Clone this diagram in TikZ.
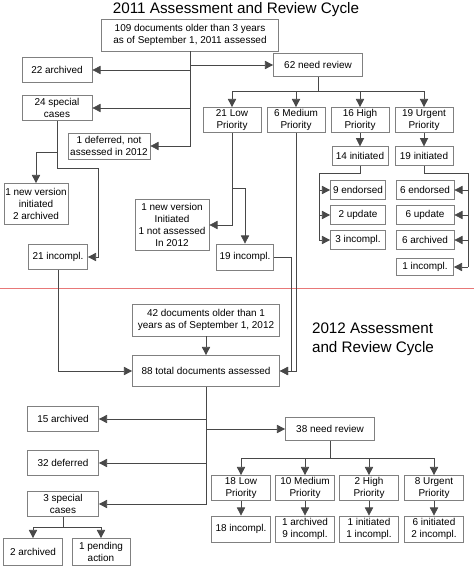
\documentclass[tikz,border=0pt]{standalone}
\usepackage{fontspec}
\setmainfont{Liberation Sans}
\usetikzlibrary{positioning, arrows.meta, calc}
\definecolor{bcolor}{HTML}{808080}
\definecolor{lcolor}{HTML}{484848}
\definecolor{rcolor}{HTML}{E87878}

\begin{document}
\begin{tikzpicture}[
    x=0.03cm, y=-0.03cm,
    box/.style={rectangle, draw=bcolor, fill=white, line width=0.6pt, inner sep=1pt, align=center, font=\fontsize{8.5}{10.2}\selectfont},
    prio/.style={box, minimum width=1.74cm, minimum height=0.75cm},
    small/.style={box, minimum width=1.65cm, minimum height=0.56cm},
    arr/.style={-{Triangle[length=7pt, width=7pt]}, draw=lcolor, line width=0.6pt},
    ln/.style={draw=lcolor, line width=0.6pt},
    ttl/.style={font=\fontsize{13}{16}\selectfont, align=left},
  ]
    \useasboundingbox (0,0) rectangle (474,566);

    % 2011 cycle
    \node[ttl] (title11) at (236,10) {2011 Assessment and Review Cycle};
    \node[box, minimum width=5.31cm, minimum height=0.96cm] (docs11) at (190,35) {109 documents older than 3 years\\as of September 1, 2011 assessed};
    \node[box, minimum width=2.1cm, minimum height=0.75cm] (arch11) at (57,70) {22 archived};
    \node[box, minimum width=2.1cm, minimum height=0.75cm] (spec11) at (57,108) {24 special\\cases};
    \node[box, minimum width=2.46cm, minimum height=0.78cm] (defer11) at (109,146) {1 deferred, not\\assessed in 2012};
    \node[box, minimum width=2.67cm, minimum height=0.69cm] (rev11) at (318,65) {62 need review};

    \node[prio] (low11) at (232,120) {21 Low\\Priority};
    \node[prio] (med11) at (296,120) {6 Medium\\Priority};
    \node[prio] (high11) at (360,120) {16 High\\Priority};
    \node[prio] (urg11) at (424,120) {19 Urgent\\Priority};

    \node[small, minimum width=1.68cm] (ini16) at (360,156) {14 initiated};
    \node[small, minimum width=1.74cm] (ini19) at (424,156) {19 initiated};
    \node[small] (end9) at (358,190) {9 endorsed};
    \node[small] (upd2) at (358,215) {2 update};
    \node[small] (inc3) at (358,240) {3 incompl.};
    \node[small, minimum width=1.74cm] (end6) at (425,190) {6 endorsed};
    \node[small, minimum width=1.74cm] (upd6) at (425,215) {6 update};
    \node[small, minimum width=1.74cm] (arch6) at (425,240) {6 archived};
    \node[small, minimum width=1.71cm, minimum height=0.5cm] (inc1) at (425,267) {1 incompl.};

    \node[box, minimum width=1.92cm, minimum height=1.23cm] (newver11) at (36,204) {1 new version\\initiated\\2 archived};
    \node[box, minimum width=1.77cm, minimum height=0.75cm] (inc21) at (58,257) {21 incompl.};
    \node[box, minimum width=2.22cm, minimum height=1.53cm] (newver21) at (172,225) {1 new version\\Initiated\\1 not assessed\\In 2012};
    \node[box, minimum width=1.71cm, minimum height=0.78cm] (inc19) at (245,257) {19 incompl.};

    \draw[arr] (docs11.south) |- (defer11.east);
    \draw[arr] (docs11.south |- arch11) -- (arch11.east);
    \draw[arr] (docs11.south |- spec11) -- (spec11.east);
    \draw[arr] (docs11.south |- rev11) -- (rev11.west);

    \coordinate (bus11) at (318,91);
    \draw[ln] (rev11.south) -- (bus11);
    \foreach \p in {low11, med11, high11, urg11}
      \draw[arr] (bus11) -| (\p.north);
    \draw[arr] (high11) -- (ini16);
    \draw[arr] (urg11) -- (ini19);

    \coordinate (l16) at (319,173);
    \draw[ln] (ini16.south) |- (l16) -- (l16 |- inc3);
    \foreach \b in {end9, upd2, inc3}
      \draw[arr] (l16 |- \b) -- (\b.west);
    \coordinate (r19) at (468,173);
    \draw[ln] (ini19.south) |- (r19) -- (r19 |- inc1);
    \foreach \b in {end6, upd6, arch6, inc1}
      \draw[arr] (r19 |- \b) -- (\b.east);

    \coordinate (k24) at (57,152);
    \coordinate (m24) at (98,168);
    \draw[arr] (spec11.south) -- (k24) -| (newver11.north);
    \draw[arr] (k24) |- (m24) |- (inc21.east);

    \coordinate (b21) at (232,188);
    \draw[arr] (low11.south) |- (newver21.east);
    \draw[arr] (b21) -| (inc19.north);

    % separator
    \draw[rcolor, line width=0.6pt] (0,288) -- (474,288);

    % 2012 cycle
    \node[ttl] (title12) at (373,339) {2012 Assessment\\and Review Cycle};
    \node[box, minimum width=4.41cm, minimum height=0.96cm] (docs12) at (206,320) {42 documents older than 1\\years as of September 1, 2012};
    \node[box, minimum width=4.41cm, minimum height=0.93cm] (total12) at (206,371) {88 total documents assessed};

    \coordinate (c19) at (291,257);
    \draw[arr] (inc21.south) |- (total12.west);
    \draw[arr] (med11.south) |- (total12.east);
    \draw[arr] (inc19.east) -- (c19) |- (total12.east);
    \draw[arr] (docs12) -- (total12);

    \node[box, minimum width=2.13cm, minimum height=0.75cm] (arch15) at (63,419) {15 archived};
    \node[box, minimum width=2.13cm, minimum height=0.75cm] (defer32) at (63,463) {32 deferred};
    \node[box, minimum width=2.13cm, minimum height=0.75cm] (spec3) at (63,504) {3 special\\cases};
    \node[box, minimum width=1.77cm, minimum height=0.81cm] (arch2) at (33,552) {2 archived};
    \node[box, minimum width=1.74cm, minimum height=0.81cm] (pend1) at (101,552) {1 pending\\action};
    \node[box, minimum width=2.67cm, minimum height=0.69cm] (rev38) at (330,429) {38 need review};

    \node[prio, minimum width=1.77cm] (low18) at (241,488) {18 Low\\Priority};
    \node[prio, minimum width=1.77cm] (med10) at (305,488) {10 Medium\\Priority};
    \node[prio, minimum width=1.77cm] (high2) at (369,488) {2 High\\Priority};
    \node[prio, minimum width=1.77cm] (urg8) at (434,488) {8 Urgent\\Priority};
    \node[prio, minimum width=1.77cm, minimum height=0.78cm] (inc18) at (241,529) {18 incompl.};
    \node[prio, minimum width=1.77cm, minimum height=0.78cm] (res10) at (305,529) {1 archived\\9 incompl.};
    \node[prio, minimum width=1.77cm, minimum height=0.78cm] (res2) at (369,529) {1 initiated\\1 incompl.};
    \node[prio, minimum width=1.77cm, minimum height=0.78cm] (res8) at (434,529) {6 initiated\\2 incompl.};

    \draw[arr] (total12.south) |- (spec3.east);
    \draw[arr] (total12.south |- arch15) -- (arch15.east);
    \draw[arr] (total12.south |- defer32) -- (defer32.east);
    \draw[arr] (total12.south |- rev38) -- (rev38.west);

    \coordinate (k3) at (63,527);
    \draw[ln] (spec3.south) -- (k3);
    \draw[arr] (k3) -| (arch2.north);
    \draw[arr] (k3) -| (pend1.north);

    \coordinate (bus12) at (330,458);
    \draw[ln] (rev38.south) -- (bus12);
    \foreach \p/\r in {low18/inc18, med10/res10, high2/res2, urg8/res8} {
      \draw[arr] (bus12) -| (\p.north);
      \draw[arr] (\p) -- (\r);
    }
  \end{tikzpicture}
\end{document}
